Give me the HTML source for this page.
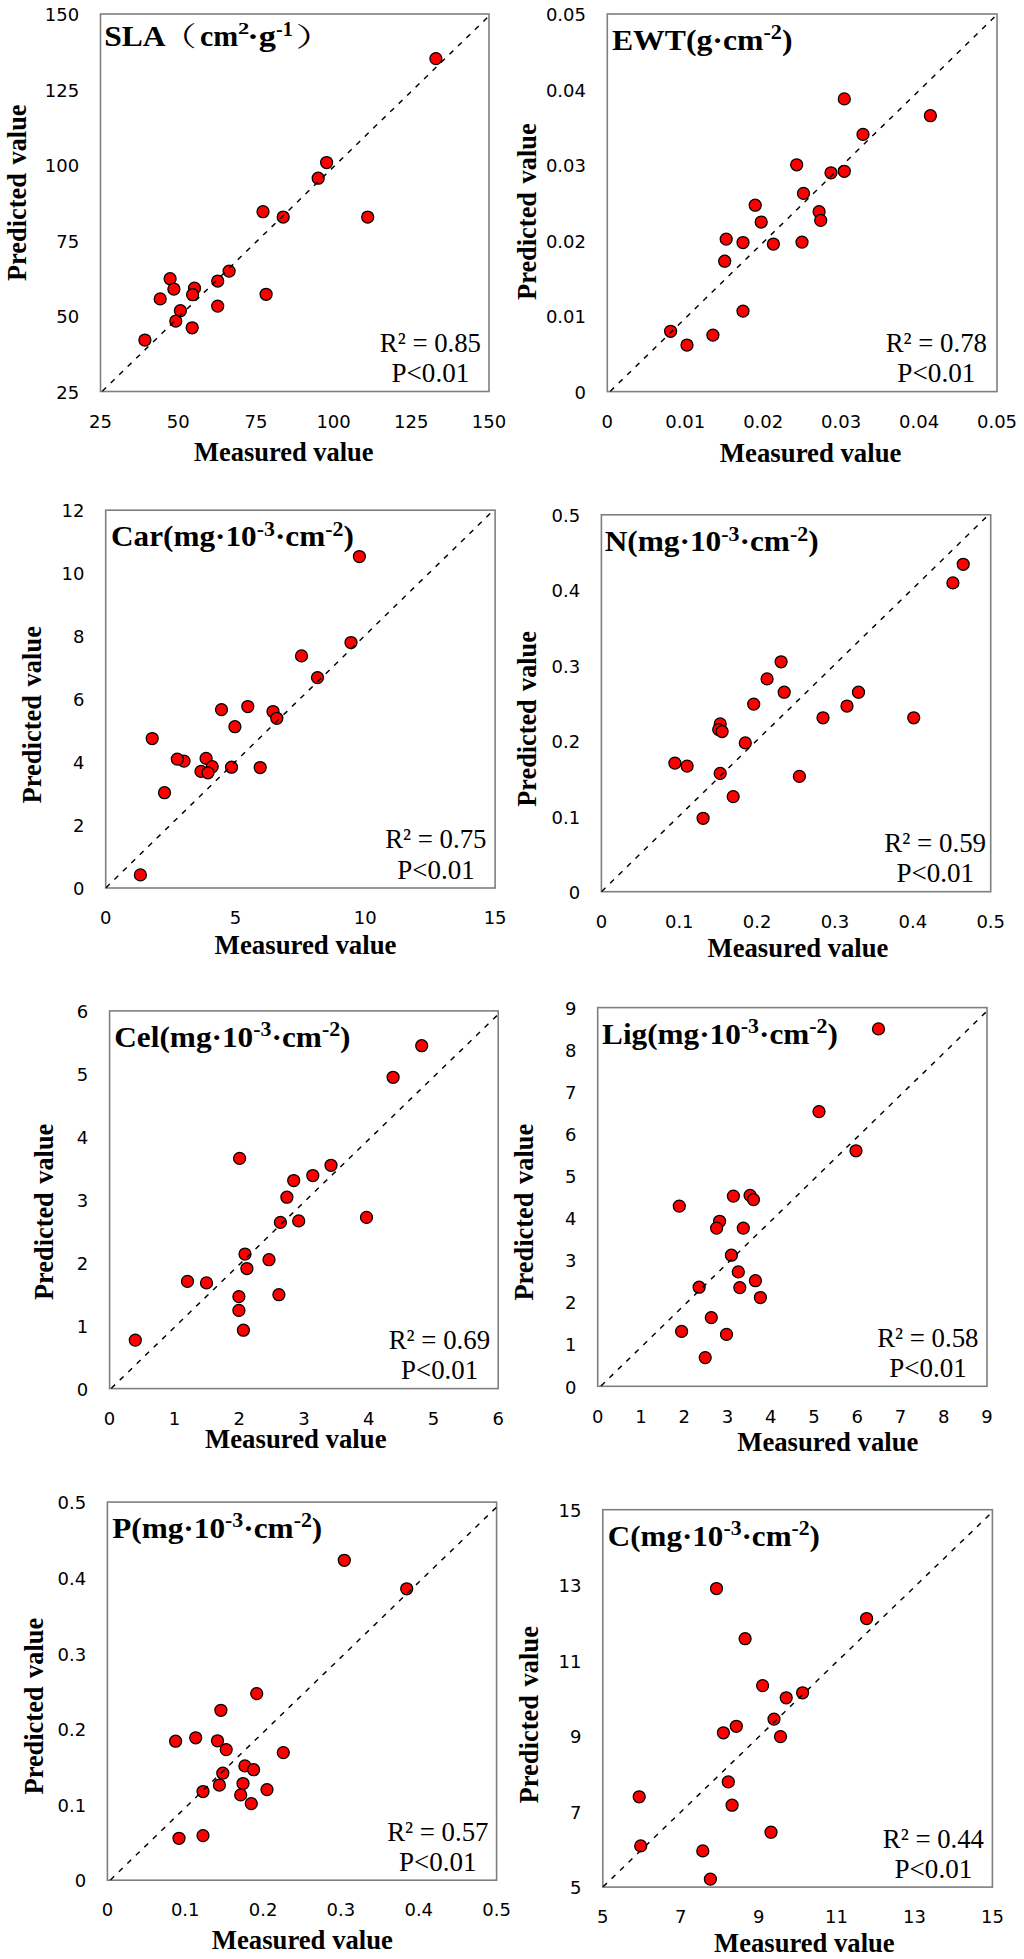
<!DOCTYPE html>
<html><head><meta charset="utf-8"><title>Measured vs predicted values</title><style>
html,body{margin:0;padding:0;background:#fff;}
svg{display:block;}
.tk{font-family:'DejaVu Sans', 'Liberation Sans', sans-serif;font-size:18px;fill:#000;}
</style></head>
<body><svg width="1024" height="1959" viewBox="0 0 1024 1959">
<rect width="1024" height="1959" fill="#fff"/>
<rect x="100.5" y="14" width="388.5" height="377.5" fill="#fff" stroke="#7f7f7f" stroke-width="1.6"/>
<circle cx="435.9" cy="58.6" r="6.0" fill="#f00" stroke="#000" stroke-width="1.25"/>
<circle cx="326.6" cy="162.5" r="6.0" fill="#f00" stroke="#000" stroke-width="1.25"/>
<circle cx="318.2" cy="178.2" r="6.0" fill="#f00" stroke="#000" stroke-width="1.25"/>
<circle cx="263" cy="211.7" r="6.0" fill="#f00" stroke="#000" stroke-width="1.25"/>
<circle cx="283.2" cy="217" r="6.0" fill="#f00" stroke="#000" stroke-width="1.25"/>
<circle cx="367.7" cy="217" r="6.0" fill="#f00" stroke="#000" stroke-width="1.25"/>
<circle cx="229.1" cy="271.1" r="6.0" fill="#f00" stroke="#000" stroke-width="1.25"/>
<circle cx="217.7" cy="281" r="6.0" fill="#f00" stroke="#000" stroke-width="1.25"/>
<circle cx="170.1" cy="278.7" r="6.0" fill="#f00" stroke="#000" stroke-width="1.25"/>
<circle cx="173.9" cy="289" r="6.0" fill="#f00" stroke="#000" stroke-width="1.25"/>
<circle cx="194.5" cy="288.2" r="6.0" fill="#f00" stroke="#000" stroke-width="1.25"/>
<circle cx="192.6" cy="294.7" r="6.0" fill="#f00" stroke="#000" stroke-width="1.25"/>
<circle cx="160.2" cy="298.9" r="6.0" fill="#f00" stroke="#000" stroke-width="1.25"/>
<circle cx="266.1" cy="294.3" r="6.0" fill="#f00" stroke="#000" stroke-width="1.25"/>
<circle cx="217.7" cy="306.1" r="6.0" fill="#f00" stroke="#000" stroke-width="1.25"/>
<circle cx="180.4" cy="310.7" r="6.0" fill="#f00" stroke="#000" stroke-width="1.25"/>
<circle cx="175.8" cy="321" r="6.0" fill="#f00" stroke="#000" stroke-width="1.25"/>
<circle cx="192.2" cy="327.8" r="6.0" fill="#f00" stroke="#000" stroke-width="1.25"/>
<circle cx="144.9" cy="340" r="6.0" fill="#f00" stroke="#000" stroke-width="1.25"/>
<line x1="102" y1="391.5" x2="489" y2="16" stroke="#000" stroke-width="1.45" stroke-dasharray="5.3 6.5" stroke-dashoffset="-0.4"/>
<text class="tk" x="79.2" y="398.7" text-anchor="end">25</text>
<text class="tk" x="79.2" y="323.2" text-anchor="end">50</text>
<text class="tk" x="79.2" y="247.7" text-anchor="end">75</text>
<text class="tk" x="79.2" y="172.2" text-anchor="end">100</text>
<text class="tk" x="79.2" y="96.7" text-anchor="end">125</text>
<text class="tk" x="79.2" y="21.2" text-anchor="end">150</text>
<text class="tk" x="100.5" y="427.7" text-anchor="middle">25</text>
<text class="tk" x="178.2" y="427.7" text-anchor="middle">50</text>
<text class="tk" x="255.9" y="427.7" text-anchor="middle">75</text>
<text class="tk" x="333.6" y="427.7" text-anchor="middle">100</text>
<text class="tk" x="411.3" y="427.7" text-anchor="middle">125</text>
<text class="tk" x="489" y="427.7" text-anchor="middle">150</text>
<text style="font-family:'Liberation Serif', 'Noto Serif CJK SC', serif;font-weight:bold;font-size:30px" transform="translate(104.2,46.3) scale(1.0518,1.0000)">SLA</text>
<text style="font-family:'Noto Serif CJK SC', 'Liberation Serif', serif;font-weight:normal;font-size:30px" transform="translate(160.91,45.5) scale(1.1889,0.9000)">（</text>
<text style="font-family:'Liberation Serif', 'Noto Serif CJK SC', serif;font-weight:bold;font-size:30px" transform="translate(199.9,46.3) scale(0.9973,1.0000)">cm</text>
<text style="font-family:'Liberation Serif', 'Noto Serif CJK SC', serif;font-weight:bold;font-size:17.5px" transform="translate(238.01,33.6) scale(1.2857,1.0000)">2</text>
<text style="font-family:'Liberation Serif', 'Noto Serif CJK SC', serif;font-weight:bold;font-size:30px" transform="translate(247.26,46.3) scale(1.1455,1.0000)">·g</text>
<text style="font-family:'Liberation Serif', 'Noto Serif CJK SC', serif;font-weight:bold;font-size:20.5px" transform="translate(276.02,36) scale(0.9800,1.0000)">-1</text>
<text style="font-family:'Noto Serif CJK SC', 'Liberation Serif', serif;font-weight:normal;font-size:30px" transform="translate(295.45,45.56) scale(1.3250,0.8786)">）</text>
<text style="font-family:'Liberation Serif', 'Noto Serif CJK SC', serif;font-size:28px" transform="translate(379.84,351.9) scale(0.9558,1.0000)">R² = 0.85</text>
<text style="font-family:'Liberation Serif', 'Noto Serif CJK SC', serif;font-size:28px" transform="translate(391.53,381.9) scale(0.9675,1.0000)">P&lt;0.01</text>
<text style="font-family:'Liberation Serif', 'Noto Serif CJK SC', serif;font-weight:bold;font-size:27.8px" transform="translate(194,461.2) scale(0.9521,1.0000)">Measured value</text>
<text style="font-family:'Liberation Serif', 'Noto Serif CJK SC', serif;font-weight:bold;word-spacing:2px;font-size:27.8px" transform="translate(25.8,281) rotate(-90) scale(0.9497,1)">Predicted value</text>
<rect x="607.3" y="14" width="389.7" height="377.6" fill="#fff" stroke="#7f7f7f" stroke-width="1.6"/>
<circle cx="844.3" cy="98.9" r="6.0" fill="#f00" stroke="#000" stroke-width="1.25"/>
<circle cx="930.4" cy="115.7" r="6.0" fill="#f00" stroke="#000" stroke-width="1.25"/>
<circle cx="863" cy="134.4" r="6.0" fill="#f00" stroke="#000" stroke-width="1.25"/>
<circle cx="796.7" cy="164.8" r="6.0" fill="#f00" stroke="#000" stroke-width="1.25"/>
<circle cx="831" cy="172.8" r="6.0" fill="#f00" stroke="#000" stroke-width="1.25"/>
<circle cx="844.3" cy="171.3" r="6.0" fill="#f00" stroke="#000" stroke-width="1.25"/>
<circle cx="803.5" cy="193.4" r="6.0" fill="#f00" stroke="#000" stroke-width="1.25"/>
<circle cx="755.2" cy="205.2" r="6.0" fill="#f00" stroke="#000" stroke-width="1.25"/>
<circle cx="819.1" cy="211.7" r="6.0" fill="#f00" stroke="#000" stroke-width="1.25"/>
<circle cx="820.7" cy="220.4" r="6.0" fill="#f00" stroke="#000" stroke-width="1.25"/>
<circle cx="761.2" cy="222" r="6.0" fill="#f00" stroke="#000" stroke-width="1.25"/>
<circle cx="726.2" cy="239.1" r="6.0" fill="#f00" stroke="#000" stroke-width="1.25"/>
<circle cx="743" cy="242.5" r="6.0" fill="#f00" stroke="#000" stroke-width="1.25"/>
<circle cx="773.4" cy="244" r="6.0" fill="#f00" stroke="#000" stroke-width="1.25"/>
<circle cx="802" cy="242.1" r="6.0" fill="#f00" stroke="#000" stroke-width="1.25"/>
<circle cx="724.7" cy="261.2" r="6.0" fill="#f00" stroke="#000" stroke-width="1.25"/>
<circle cx="743" cy="311.1" r="6.0" fill="#f00" stroke="#000" stroke-width="1.25"/>
<circle cx="670.6" cy="331.3" r="6.0" fill="#f00" stroke="#000" stroke-width="1.25"/>
<circle cx="687" cy="345" r="6.0" fill="#f00" stroke="#000" stroke-width="1.25"/>
<circle cx="712.9" cy="335.1" r="6.0" fill="#f00" stroke="#000" stroke-width="1.25"/>
<line x1="610" y1="391.6" x2="997" y2="14.6" stroke="#000" stroke-width="1.45" stroke-dasharray="5.3 6.5" stroke-dashoffset="-0.4"/>
<text class="tk" x="586" y="398.8" text-anchor="end">0</text>
<text class="tk" x="586" y="323.28" text-anchor="end">0.01</text>
<text class="tk" x="586" y="247.76" text-anchor="end">0.02</text>
<text class="tk" x="586" y="172.24" text-anchor="end">0.03</text>
<text class="tk" x="586" y="96.72" text-anchor="end">0.04</text>
<text class="tk" x="586" y="21.2" text-anchor="end">0.05</text>
<text class="tk" x="607.3" y="427.8" text-anchor="middle">0</text>
<text class="tk" x="685.24" y="427.8" text-anchor="middle">0.01</text>
<text class="tk" x="763.18" y="427.8" text-anchor="middle">0.02</text>
<text class="tk" x="841.12" y="427.8" text-anchor="middle">0.03</text>
<text class="tk" x="919.06" y="427.8" text-anchor="middle">0.04</text>
<text class="tk" x="997" y="427.8" text-anchor="middle">0.05</text>
<text style="font-family:'Liberation Serif', 'Noto Serif CJK SC', serif;font-weight:bold;font-size:30px" transform="translate(611.9,49.6) scale(1.0574,1.0000)"><tspan>EWT(g·cm</tspan><tspan font-size="21" dy="-10.7">-2</tspan><tspan dy="10.7">​</tspan><tspan>)</tspan></text>
<text style="font-family:'Liberation Serif', 'Noto Serif CJK SC', serif;font-size:28px" transform="translate(885.64,351.9) scale(0.9577,1.0000)">R² = 0.78</text>
<text style="font-family:'Liberation Serif', 'Noto Serif CJK SC', serif;font-size:28px" transform="translate(897.33,382.1) scale(0.9714,1.0000)">P&lt;0.01</text>
<text style="font-family:'Liberation Serif', 'Noto Serif CJK SC', serif;font-weight:bold;font-size:27.8px" transform="translate(719.8,461.8) scale(0.9633,1.0000)">Measured value</text>
<text style="font-family:'Liberation Serif', 'Noto Serif CJK SC', serif;font-weight:bold;word-spacing:2px;font-size:27.8px" transform="translate(535.6,300) rotate(-90) scale(0.9503,1)">Predicted value</text>
<rect x="105.7" y="510.2" width="389.4" height="377.8" fill="#fff" stroke="#7f7f7f" stroke-width="1.6"/>
<circle cx="359.4" cy="556.5" r="6.0" fill="#f00" stroke="#000" stroke-width="1.25"/>
<circle cx="351" cy="642.5" r="6.0" fill="#f00" stroke="#000" stroke-width="1.25"/>
<circle cx="301.5" cy="655.9" r="6.0" fill="#f00" stroke="#000" stroke-width="1.25"/>
<circle cx="317.5" cy="677.6" r="6.0" fill="#f00" stroke="#000" stroke-width="1.25"/>
<circle cx="221.5" cy="709.6" r="6.0" fill="#f00" stroke="#000" stroke-width="1.25"/>
<circle cx="247.8" cy="706.5" r="6.0" fill="#f00" stroke="#000" stroke-width="1.25"/>
<circle cx="273" cy="711.5" r="6.0" fill="#f00" stroke="#000" stroke-width="1.25"/>
<circle cx="276.8" cy="718.3" r="6.0" fill="#f00" stroke="#000" stroke-width="1.25"/>
<circle cx="234.9" cy="726.7" r="6.0" fill="#f00" stroke="#000" stroke-width="1.25"/>
<circle cx="152.2" cy="738.5" r="6.0" fill="#f00" stroke="#000" stroke-width="1.25"/>
<circle cx="184" cy="761.1" r="6.0" fill="#f00" stroke="#000" stroke-width="1.25"/>
<circle cx="177.3" cy="759.1" r="6.0" fill="#f00" stroke="#000" stroke-width="1.25"/>
<circle cx="206.1" cy="758.4" r="6.0" fill="#f00" stroke="#000" stroke-width="1.25"/>
<circle cx="212.2" cy="766.7" r="6.0" fill="#f00" stroke="#000" stroke-width="1.25"/>
<circle cx="201" cy="771.4" r="6.0" fill="#f00" stroke="#000" stroke-width="1.25"/>
<circle cx="208" cy="772.8" r="6.0" fill="#f00" stroke="#000" stroke-width="1.25"/>
<circle cx="231.5" cy="767.2" r="6.0" fill="#f00" stroke="#000" stroke-width="1.25"/>
<circle cx="260.2" cy="767.5" r="6.0" fill="#f00" stroke="#000" stroke-width="1.25"/>
<circle cx="164.5" cy="792.7" r="6.0" fill="#f00" stroke="#000" stroke-width="1.25"/>
<circle cx="140.4" cy="874.9" r="6.0" fill="#f00" stroke="#000" stroke-width="1.25"/>
<line x1="105.7" y1="888" x2="493.56" y2="510.2" stroke="#000" stroke-width="1.45" stroke-dasharray="5.3 6.5" stroke-dashoffset="-0.4"/>
<text class="tk" x="84.4" y="895.2" text-anchor="end">0</text>
<text class="tk" x="84.4" y="832.23" text-anchor="end">2</text>
<text class="tk" x="84.4" y="769.27" text-anchor="end">4</text>
<text class="tk" x="84.4" y="706.3" text-anchor="end">6</text>
<text class="tk" x="84.4" y="643.33" text-anchor="end">8</text>
<text class="tk" x="84.4" y="580.37" text-anchor="end">10</text>
<text class="tk" x="84.4" y="517.4" text-anchor="end">12</text>
<text class="tk" x="105.7" y="924.2" text-anchor="middle">0</text>
<text class="tk" x="235.5" y="924.2" text-anchor="middle">5</text>
<text class="tk" x="365.3" y="924.2" text-anchor="middle">10</text>
<text class="tk" x="495.1" y="924.2" text-anchor="middle">15</text>
<text style="font-family:'Liberation Serif', 'Noto Serif CJK SC', serif;font-weight:bold;font-size:30px" transform="translate(111.06,546.3) scale(1.0411,1.0000)"><tspan>Car(mg·10</tspan><tspan font-size="21" dy="-10.7">-3</tspan><tspan dy="10.7">​</tspan><tspan>·cm</tspan><tspan font-size="21" dy="-10.7">-2</tspan><tspan dy="10.7">​</tspan><tspan>)</tspan></text>
<text style="font-family:'Liberation Serif', 'Noto Serif CJK SC', serif;font-size:28px" transform="translate(385.14,848.4) scale(0.9577,1.0000)">R² = 0.75</text>
<text style="font-family:'Liberation Serif', 'Noto Serif CJK SC', serif;font-size:28px" transform="translate(397.24,878.9) scale(0.9649,1.0000)">P&lt;0.01</text>
<text style="font-family:'Liberation Serif', 'Noto Serif CJK SC', serif;font-weight:bold;font-size:27.8px" transform="translate(214.6,954) scale(0.9649,1.0000)">Measured value</text>
<text style="font-family:'Liberation Serif', 'Noto Serif CJK SC', serif;font-weight:bold;word-spacing:2px;font-size:27.8px" transform="translate(40.9,803.4) rotate(-90) scale(0.9535,1)">Predicted value</text>
<rect x="601.4" y="514.8" width="389.3" height="376.9" fill="#fff" stroke="#7f7f7f" stroke-width="1.6"/>
<circle cx="963.2" cy="564.3" r="6.0" fill="#f00" stroke="#000" stroke-width="1.25"/>
<circle cx="952.9" cy="582.9" r="6.0" fill="#f00" stroke="#000" stroke-width="1.25"/>
<circle cx="781.1" cy="661.8" r="6.0" fill="#f00" stroke="#000" stroke-width="1.25"/>
<circle cx="767.1" cy="678.9" r="6.0" fill="#f00" stroke="#000" stroke-width="1.25"/>
<circle cx="784.2" cy="692.2" r="6.0" fill="#f00" stroke="#000" stroke-width="1.25"/>
<circle cx="858.5" cy="692.2" r="6.0" fill="#f00" stroke="#000" stroke-width="1.25"/>
<circle cx="753.7" cy="704.1" r="6.0" fill="#f00" stroke="#000" stroke-width="1.25"/>
<circle cx="847" cy="706" r="6.0" fill="#f00" stroke="#000" stroke-width="1.25"/>
<circle cx="823" cy="717.8" r="6.0" fill="#f00" stroke="#000" stroke-width="1.25"/>
<circle cx="913.7" cy="717.8" r="6.0" fill="#f00" stroke="#000" stroke-width="1.25"/>
<circle cx="720.2" cy="723.9" r="6.0" fill="#f00" stroke="#000" stroke-width="1.25"/>
<circle cx="718.7" cy="729.6" r="6.0" fill="#f00" stroke="#000" stroke-width="1.25"/>
<circle cx="722.1" cy="731.5" r="6.0" fill="#f00" stroke="#000" stroke-width="1.25"/>
<circle cx="745.3" cy="742.9" r="6.0" fill="#f00" stroke="#000" stroke-width="1.25"/>
<circle cx="674.9" cy="763.1" r="6.0" fill="#f00" stroke="#000" stroke-width="1.25"/>
<circle cx="687.1" cy="766.1" r="6.0" fill="#f00" stroke="#000" stroke-width="1.25"/>
<circle cx="720.2" cy="773.4" r="6.0" fill="#f00" stroke="#000" stroke-width="1.25"/>
<circle cx="799.4" cy="776.4" r="6.0" fill="#f00" stroke="#000" stroke-width="1.25"/>
<circle cx="733.2" cy="796.6" r="6.0" fill="#f00" stroke="#000" stroke-width="1.25"/>
<circle cx="703.1" cy="818.3" r="6.0" fill="#f00" stroke="#000" stroke-width="1.25"/>
<line x1="601.4" y1="891.7" x2="988.65" y2="514.8" stroke="#000" stroke-width="1.45" stroke-dasharray="5.3 6.5" stroke-dashoffset="-0.4"/>
<text class="tk" x="580.1" y="898.9" text-anchor="end">0</text>
<text class="tk" x="580.1" y="823.52" text-anchor="end">0.1</text>
<text class="tk" x="580.1" y="748.14" text-anchor="end">0.2</text>
<text class="tk" x="580.1" y="672.76" text-anchor="end">0.3</text>
<text class="tk" x="580.1" y="597.38" text-anchor="end">0.4</text>
<text class="tk" x="580.1" y="522" text-anchor="end">0.5</text>
<text class="tk" x="601.4" y="927.9" text-anchor="middle">0</text>
<text class="tk" x="679.26" y="927.9" text-anchor="middle">0.1</text>
<text class="tk" x="757.12" y="927.9" text-anchor="middle">0.2</text>
<text class="tk" x="834.98" y="927.9" text-anchor="middle">0.3</text>
<text class="tk" x="912.84" y="927.9" text-anchor="middle">0.4</text>
<text class="tk" x="990.7" y="927.9" text-anchor="middle">0.5</text>
<text style="font-family:'Liberation Serif', 'Noto Serif CJK SC', serif;font-weight:bold;font-size:30px" transform="translate(604.66,551.2) scale(1.0448,1.0000)"><tspan>N(mg·10</tspan><tspan font-size="21" dy="-10.7">-3</tspan><tspan dy="10.7">​</tspan><tspan>·cm</tspan><tspan font-size="21" dy="-10.7">-2</tspan><tspan dy="10.7">​</tspan><tspan>)</tspan></text>
<text style="font-family:'Liberation Serif', 'Noto Serif CJK SC', serif;font-size:28px" transform="translate(884.34,852.2) scale(0.9615,1.0000)">R² = 0.59</text>
<text style="font-family:'Liberation Serif', 'Noto Serif CJK SC', serif;font-size:28px" transform="translate(896.43,882.1) scale(0.9662,1.0000)">P&lt;0.01</text>
<text style="font-family:'Liberation Serif', 'Noto Serif CJK SC', serif;font-weight:bold;font-size:27.8px" transform="translate(707.6,956.8) scale(0.9580,1.0000)">Measured value</text>
<text style="font-family:'Liberation Serif', 'Noto Serif CJK SC', serif;font-weight:bold;word-spacing:2px;font-size:27.8px" transform="translate(535.9,806.7) rotate(-90) scale(0.9443,1)">Predicted value</text>
<rect x="109.6" y="1010.9" width="388.6" height="377.7" fill="#fff" stroke="#7f7f7f" stroke-width="1.6"/>
<circle cx="421.7" cy="1045.7" r="6.0" fill="#f00" stroke="#000" stroke-width="1.25"/>
<circle cx="393.1" cy="1077.3" r="6.0" fill="#f00" stroke="#000" stroke-width="1.25"/>
<circle cx="239.6" cy="1158.4" r="6.0" fill="#f00" stroke="#000" stroke-width="1.25"/>
<circle cx="331" cy="1165.3" r="6.0" fill="#f00" stroke="#000" stroke-width="1.25"/>
<circle cx="312.8" cy="1175.5" r="6.0" fill="#f00" stroke="#000" stroke-width="1.25"/>
<circle cx="293.7" cy="1180.5" r="6.0" fill="#f00" stroke="#000" stroke-width="1.25"/>
<circle cx="286.9" cy="1197.2" r="6.0" fill="#f00" stroke="#000" stroke-width="1.25"/>
<circle cx="280.4" cy="1222.4" r="6.0" fill="#f00" stroke="#000" stroke-width="1.25"/>
<circle cx="298.7" cy="1220.9" r="6.0" fill="#f00" stroke="#000" stroke-width="1.25"/>
<circle cx="366.5" cy="1217.4" r="6.0" fill="#f00" stroke="#000" stroke-width="1.25"/>
<circle cx="245" cy="1254" r="6.0" fill="#f00" stroke="#000" stroke-width="1.25"/>
<circle cx="246.9" cy="1268.5" r="6.0" fill="#f00" stroke="#000" stroke-width="1.25"/>
<circle cx="269" cy="1259.7" r="6.0" fill="#f00" stroke="#000" stroke-width="1.25"/>
<circle cx="187.5" cy="1281.4" r="6.0" fill="#f00" stroke="#000" stroke-width="1.25"/>
<circle cx="206.5" cy="1282.9" r="6.0" fill="#f00" stroke="#000" stroke-width="1.25"/>
<circle cx="238.9" cy="1296.6" r="6.0" fill="#f00" stroke="#000" stroke-width="1.25"/>
<circle cx="278.9" cy="1294.7" r="6.0" fill="#f00" stroke="#000" stroke-width="1.25"/>
<circle cx="238.9" cy="1310.4" r="6.0" fill="#f00" stroke="#000" stroke-width="1.25"/>
<circle cx="243.4" cy="1330.2" r="6.0" fill="#f00" stroke="#000" stroke-width="1.25"/>
<circle cx="135.3" cy="1340.1" r="6.0" fill="#f00" stroke="#000" stroke-width="1.25"/>
<line x1="111" y1="1388.6" x2="498.2" y2="1014.4" stroke="#000" stroke-width="1.45" stroke-dasharray="5.3 6.5" stroke-dashoffset="-0.4"/>
<text class="tk" x="88.3" y="1395.8" text-anchor="end">0</text>
<text class="tk" x="88.3" y="1332.85" text-anchor="end">1</text>
<text class="tk" x="88.3" y="1269.9" text-anchor="end">2</text>
<text class="tk" x="88.3" y="1206.95" text-anchor="end">3</text>
<text class="tk" x="88.3" y="1144" text-anchor="end">4</text>
<text class="tk" x="88.3" y="1081.05" text-anchor="end">5</text>
<text class="tk" x="88.3" y="1018.1" text-anchor="end">6</text>
<text class="tk" x="109.6" y="1424.8" text-anchor="middle">0</text>
<text class="tk" x="174.37" y="1424.8" text-anchor="middle">1</text>
<text class="tk" x="239.13" y="1424.8" text-anchor="middle">2</text>
<text class="tk" x="303.9" y="1424.8" text-anchor="middle">3</text>
<text class="tk" x="368.67" y="1424.8" text-anchor="middle">4</text>
<text class="tk" x="433.43" y="1424.8" text-anchor="middle">5</text>
<text class="tk" x="498.2" y="1424.8" text-anchor="middle">6</text>
<text style="font-family:'Liberation Serif', 'Noto Serif CJK SC', serif;font-weight:bold;font-size:30px" transform="translate(114.26,1046.8) scale(1.0433,1.0000)"><tspan>Cel(mg·10</tspan><tspan font-size="21" dy="-10.7">-3</tspan><tspan dy="10.7">​</tspan><tspan>·cm</tspan><tspan font-size="21" dy="-10.7">-2</tspan><tspan dy="10.7">​</tspan><tspan>)</tspan></text>
<text style="font-family:'Liberation Serif', 'Noto Serif CJK SC', serif;font-size:28px" transform="translate(388.74,1348.8) scale(0.9577,1.0000)">R² = 0.69</text>
<text style="font-family:'Liberation Serif', 'Noto Serif CJK SC', serif;font-size:28px" transform="translate(401.04,1378.9) scale(0.9597,1.0000)">P&lt;0.01</text>
<text style="font-family:'Liberation Serif', 'Noto Serif CJK SC', serif;font-weight:bold;font-size:27.8px" transform="translate(205,1447.7) scale(0.9628,1.0000)">Measured value</text>
<text style="font-family:'Liberation Serif', 'Noto Serif CJK SC', serif;font-weight:bold;word-spacing:2px;font-size:27.8px" transform="translate(53.1,1300) rotate(-90) scale(0.9476,1)">Predicted value</text>
<rect x="597.7" y="1007.6" width="389.3" height="378.7" fill="#fff" stroke="#7f7f7f" stroke-width="1.6"/>
<circle cx="878.5" cy="1028.9" r="6.0" fill="#f00" stroke="#000" stroke-width="1.25"/>
<circle cx="819" cy="1111.6" r="6.0" fill="#f00" stroke="#000" stroke-width="1.25"/>
<circle cx="856" cy="1150.8" r="6.0" fill="#f00" stroke="#000" stroke-width="1.25"/>
<circle cx="733.4" cy="1196.1" r="6.0" fill="#f00" stroke="#000" stroke-width="1.25"/>
<circle cx="750.1" cy="1195.4" r="6.0" fill="#f00" stroke="#000" stroke-width="1.25"/>
<circle cx="753.5" cy="1199.6" r="6.0" fill="#f00" stroke="#000" stroke-width="1.25"/>
<circle cx="679.3" cy="1206.1" r="6.0" fill="#f00" stroke="#000" stroke-width="1.25"/>
<circle cx="719.6" cy="1221.3" r="6.0" fill="#f00" stroke="#000" stroke-width="1.25"/>
<circle cx="716.6" cy="1228.1" r="6.0" fill="#f00" stroke="#000" stroke-width="1.25"/>
<circle cx="743.3" cy="1228.1" r="6.0" fill="#f00" stroke="#000" stroke-width="1.25"/>
<circle cx="731.4" cy="1255.2" r="6.0" fill="#f00" stroke="#000" stroke-width="1.25"/>
<circle cx="738.3" cy="1271.9" r="6.0" fill="#f00" stroke="#000" stroke-width="1.25"/>
<circle cx="755.4" cy="1280.7" r="6.0" fill="#f00" stroke="#000" stroke-width="1.25"/>
<circle cx="699.1" cy="1287.2" r="6.0" fill="#f00" stroke="#000" stroke-width="1.25"/>
<circle cx="739.8" cy="1287.6" r="6.0" fill="#f00" stroke="#000" stroke-width="1.25"/>
<circle cx="760.4" cy="1297.5" r="6.0" fill="#f00" stroke="#000" stroke-width="1.25"/>
<circle cx="711.3" cy="1317.6" r="6.0" fill="#f00" stroke="#000" stroke-width="1.25"/>
<circle cx="681.6" cy="1331.4" r="6.0" fill="#f00" stroke="#000" stroke-width="1.25"/>
<circle cx="726.5" cy="1334.4" r="6.0" fill="#f00" stroke="#000" stroke-width="1.25"/>
<circle cx="705.2" cy="1357.6" r="6.0" fill="#f00" stroke="#000" stroke-width="1.25"/>
<line x1="600.7" y1="1386.3" x2="987" y2="1011.1" stroke="#000" stroke-width="1.45" stroke-dasharray="5.3 6.5" stroke-dashoffset="-0.4"/>
<text class="tk" x="576.4" y="1393.5" text-anchor="end">0</text>
<text class="tk" x="576.4" y="1351.42" text-anchor="end">1</text>
<text class="tk" x="576.4" y="1309.34" text-anchor="end">2</text>
<text class="tk" x="576.4" y="1267.27" text-anchor="end">3</text>
<text class="tk" x="576.4" y="1225.19" text-anchor="end">4</text>
<text class="tk" x="576.4" y="1183.11" text-anchor="end">5</text>
<text class="tk" x="576.4" y="1141.03" text-anchor="end">6</text>
<text class="tk" x="576.4" y="1098.96" text-anchor="end">7</text>
<text class="tk" x="576.4" y="1056.88" text-anchor="end">8</text>
<text class="tk" x="576.4" y="1014.8" text-anchor="end">9</text>
<text class="tk" x="597.7" y="1422.5" text-anchor="middle">0</text>
<text class="tk" x="640.96" y="1422.5" text-anchor="middle">1</text>
<text class="tk" x="684.21" y="1422.5" text-anchor="middle">2</text>
<text class="tk" x="727.47" y="1422.5" text-anchor="middle">3</text>
<text class="tk" x="770.72" y="1422.5" text-anchor="middle">4</text>
<text class="tk" x="813.98" y="1422.5" text-anchor="middle">5</text>
<text class="tk" x="857.23" y="1422.5" text-anchor="middle">6</text>
<text class="tk" x="900.49" y="1422.5" text-anchor="middle">7</text>
<text class="tk" x="943.74" y="1422.5" text-anchor="middle">8</text>
<text class="tk" x="987" y="1422.5" text-anchor="middle">9</text>
<text style="font-family:'Liberation Serif', 'Noto Serif CJK SC', serif;font-weight:bold;font-size:30px" transform="translate(602.1,1043.8) scale(1.0404,1.0000)"><tspan>Lig(mg·10</tspan><tspan font-size="21" dy="-10.7">-3</tspan><tspan dy="10.7">​</tspan><tspan>·cm</tspan><tspan font-size="21" dy="-10.7">-2</tspan><tspan dy="10.7">​</tspan><tspan>)</tspan></text>
<text style="font-family:'Liberation Serif', 'Noto Serif CJK SC', serif;font-size:28px" transform="translate(877.14,1346.6) scale(0.9577,1.0000)">R² = 0.58</text>
<text style="font-family:'Liberation Serif', 'Noto Serif CJK SC', serif;font-size:28px" transform="translate(889.24,1376.5) scale(0.9649,1.0000)">P&lt;0.01</text>
<text style="font-family:'Liberation Serif', 'Noto Serif CJK SC', serif;font-weight:bold;font-size:27.8px" transform="translate(737.2,1450.5) scale(0.9601,1.0000)">Measured value</text>
<text style="font-family:'Liberation Serif', 'Noto Serif CJK SC', serif;font-weight:bold;word-spacing:2px;font-size:27.8px" transform="translate(532.8,1300.6) rotate(-90) scale(0.9508,1)">Predicted value</text>
<rect x="107.4" y="1502.1" width="389.2" height="378.1" fill="#fff" stroke="#7f7f7f" stroke-width="1.6"/>
<circle cx="344.3" cy="1560.3" r="6.0" fill="#f00" stroke="#000" stroke-width="1.25"/>
<circle cx="406.7" cy="1588.8" r="6.0" fill="#f00" stroke="#000" stroke-width="1.25"/>
<circle cx="256.7" cy="1693.6" r="6.0" fill="#f00" stroke="#000" stroke-width="1.25"/>
<circle cx="220.9" cy="1710.3" r="6.0" fill="#f00" stroke="#000" stroke-width="1.25"/>
<circle cx="175.6" cy="1741.2" r="6.0" fill="#f00" stroke="#000" stroke-width="1.25"/>
<circle cx="195.7" cy="1737.8" r="6.0" fill="#f00" stroke="#000" stroke-width="1.25"/>
<circle cx="217.5" cy="1740.8" r="6.0" fill="#f00" stroke="#000" stroke-width="1.25"/>
<circle cx="226.2" cy="1749.6" r="6.0" fill="#f00" stroke="#000" stroke-width="1.25"/>
<circle cx="283.3" cy="1752.6" r="6.0" fill="#f00" stroke="#000" stroke-width="1.25"/>
<circle cx="244.9" cy="1765.9" r="6.0" fill="#f00" stroke="#000" stroke-width="1.25"/>
<circle cx="253.6" cy="1769.7" r="6.0" fill="#f00" stroke="#000" stroke-width="1.25"/>
<circle cx="222.8" cy="1773.2" r="6.0" fill="#f00" stroke="#000" stroke-width="1.25"/>
<circle cx="219.4" cy="1785" r="6.0" fill="#f00" stroke="#000" stroke-width="1.25"/>
<circle cx="243" cy="1783.5" r="6.0" fill="#f00" stroke="#000" stroke-width="1.25"/>
<circle cx="203" cy="1791.5" r="6.0" fill="#f00" stroke="#000" stroke-width="1.25"/>
<circle cx="267" cy="1789.6" r="6.0" fill="#f00" stroke="#000" stroke-width="1.25"/>
<circle cx="240.7" cy="1794.9" r="6.0" fill="#f00" stroke="#000" stroke-width="1.25"/>
<circle cx="251.3" cy="1803.6" r="6.0" fill="#f00" stroke="#000" stroke-width="1.25"/>
<circle cx="179" cy="1838.3" r="6.0" fill="#f00" stroke="#000" stroke-width="1.25"/>
<circle cx="203" cy="1835.6" r="6.0" fill="#f00" stroke="#000" stroke-width="1.25"/>
<line x1="110.1" y1="1880.2" x2="496.6" y2="1507.1" stroke="#000" stroke-width="1.45" stroke-dasharray="5.3 6.5" stroke-dashoffset="-0.4"/>
<text class="tk" x="86.1" y="1887.4" text-anchor="end">0</text>
<text class="tk" x="86.1" y="1811.78" text-anchor="end">0.1</text>
<text class="tk" x="86.1" y="1736.16" text-anchor="end">0.2</text>
<text class="tk" x="86.1" y="1660.54" text-anchor="end">0.3</text>
<text class="tk" x="86.1" y="1584.92" text-anchor="end">0.4</text>
<text class="tk" x="86.1" y="1509.3" text-anchor="end">0.5</text>
<text class="tk" x="107.4" y="1916.4" text-anchor="middle">0</text>
<text class="tk" x="185.24" y="1916.4" text-anchor="middle">0.1</text>
<text class="tk" x="263.08" y="1916.4" text-anchor="middle">0.2</text>
<text class="tk" x="340.92" y="1916.4" text-anchor="middle">0.3</text>
<text class="tk" x="418.76" y="1916.4" text-anchor="middle">0.4</text>
<text class="tk" x="496.6" y="1916.4" text-anchor="middle">0.5</text>
<text style="font-family:'Liberation Serif', 'Noto Serif CJK SC', serif;font-weight:bold;font-size:30px" transform="translate(112.2,1538) scale(1.0425,1.0000)"><tspan>P(mg·10</tspan><tspan font-size="21" dy="-10.7">-3</tspan><tspan dy="10.7">​</tspan><tspan>·cm</tspan><tspan font-size="21" dy="-10.7">-2</tspan><tspan dy="10.7">​</tspan><tspan>)</tspan></text>
<text style="font-family:'Liberation Serif', 'Noto Serif CJK SC', serif;font-size:28px" transform="translate(387.14,1840.8) scale(0.9577,1.0000)">R² = 0.57</text>
<text style="font-family:'Liberation Serif', 'Noto Serif CJK SC', serif;font-size:28px" transform="translate(398.93,1870.9) scale(0.9662,1.0000)">P&lt;0.01</text>
<text style="font-family:'Liberation Serif', 'Noto Serif CJK SC', serif;font-weight:bold;font-size:27.8px" transform="translate(211.8,1949.4) scale(0.9601,1.0000)">Measured value</text>
<text style="font-family:'Liberation Serif', 'Noto Serif CJK SC', serif;font-weight:bold;word-spacing:2px;font-size:27.8px" transform="translate(42.5,1794.5) rotate(-90) scale(0.9503,1)">Predicted value</text>
<rect x="602.8" y="1509.7" width="389.6" height="377.4" fill="#fff" stroke="#7f7f7f" stroke-width="1.6"/>
<circle cx="716.5" cy="1588.5" r="6.0" fill="#f00" stroke="#000" stroke-width="1.25"/>
<circle cx="866.6" cy="1618.5" r="6.0" fill="#f00" stroke="#000" stroke-width="1.25"/>
<circle cx="745.1" cy="1638.7" r="6.0" fill="#f00" stroke="#000" stroke-width="1.25"/>
<circle cx="762.6" cy="1685.6" r="6.0" fill="#f00" stroke="#000" stroke-width="1.25"/>
<circle cx="786.2" cy="1697.8" r="6.0" fill="#f00" stroke="#000" stroke-width="1.25"/>
<circle cx="802.6" cy="1692.8" r="6.0" fill="#f00" stroke="#000" stroke-width="1.25"/>
<circle cx="774" cy="1719.1" r="6.0" fill="#f00" stroke="#000" stroke-width="1.25"/>
<circle cx="736.3" cy="1726.3" r="6.0" fill="#f00" stroke="#000" stroke-width="1.25"/>
<circle cx="723.4" cy="1732.8" r="6.0" fill="#f00" stroke="#000" stroke-width="1.25"/>
<circle cx="780.5" cy="1736.6" r="6.0" fill="#f00" stroke="#000" stroke-width="1.25"/>
<circle cx="728.3" cy="1781.9" r="6.0" fill="#f00" stroke="#000" stroke-width="1.25"/>
<circle cx="639.2" cy="1796.8" r="6.0" fill="#f00" stroke="#000" stroke-width="1.25"/>
<circle cx="732.1" cy="1805.2" r="6.0" fill="#f00" stroke="#000" stroke-width="1.25"/>
<circle cx="771" cy="1832.2" r="6.0" fill="#f00" stroke="#000" stroke-width="1.25"/>
<circle cx="640.7" cy="1845.9" r="6.0" fill="#f00" stroke="#000" stroke-width="1.25"/>
<circle cx="702.8" cy="1850.9" r="6.0" fill="#f00" stroke="#000" stroke-width="1.25"/>
<circle cx="710.4" cy="1879.1" r="6.0" fill="#f00" stroke="#000" stroke-width="1.25"/>
<line x1="602.8" y1="1887.1" x2="992.4" y2="1511.9" stroke="#000" stroke-width="1.45" stroke-dasharray="5.3 6.5" stroke-dashoffset="-0.4"/>
<text class="tk" x="581.5" y="1894.3" text-anchor="end">5</text>
<text class="tk" x="581.5" y="1818.82" text-anchor="end">7</text>
<text class="tk" x="581.5" y="1743.34" text-anchor="end">9</text>
<text class="tk" x="581.5" y="1667.86" text-anchor="end">11</text>
<text class="tk" x="581.5" y="1592.38" text-anchor="end">13</text>
<text class="tk" x="581.5" y="1516.9" text-anchor="end">15</text>
<text class="tk" x="602.8" y="1923.3" text-anchor="middle">5</text>
<text class="tk" x="680.72" y="1923.3" text-anchor="middle">7</text>
<text class="tk" x="758.64" y="1923.3" text-anchor="middle">9</text>
<text class="tk" x="836.56" y="1923.3" text-anchor="middle">11</text>
<text class="tk" x="914.48" y="1923.3" text-anchor="middle">13</text>
<text class="tk" x="992.4" y="1923.3" text-anchor="middle">15</text>
<text style="font-family:'Liberation Serif', 'Noto Serif CJK SC', serif;font-weight:bold;font-size:30px" transform="translate(607.86,1546) scale(1.0355,1.0000)"><tspan>C(mg·10</tspan><tspan font-size="21" dy="-10.7">-3</tspan><tspan dy="10.7">​</tspan><tspan>·cm</tspan><tspan font-size="21" dy="-10.7">-2</tspan><tspan dy="10.7">​</tspan><tspan>)</tspan></text>
<text style="font-family:'Liberation Serif', 'Noto Serif CJK SC', serif;font-size:28px" transform="translate(882.84,1847.6) scale(0.9558,1.0000)">R² = 0.44</text>
<text style="font-family:'Liberation Serif', 'Noto Serif CJK SC', serif;font-size:28px" transform="translate(894.53,1877.5) scale(0.9675,1.0000)">P&lt;0.01</text>
<text style="font-family:'Liberation Serif', 'Noto Serif CJK SC', serif;font-weight:bold;font-size:27.8px" transform="translate(714.1,1951.5) scale(0.9574,1.0000)">Measured value</text>
<text style="font-family:'Liberation Serif', 'Noto Serif CJK SC', serif;font-weight:bold;word-spacing:2px;font-size:27.8px" transform="translate(537.8,1803.4) rotate(-90) scale(0.9535,1)">Predicted value</text>
</svg></body></html>
